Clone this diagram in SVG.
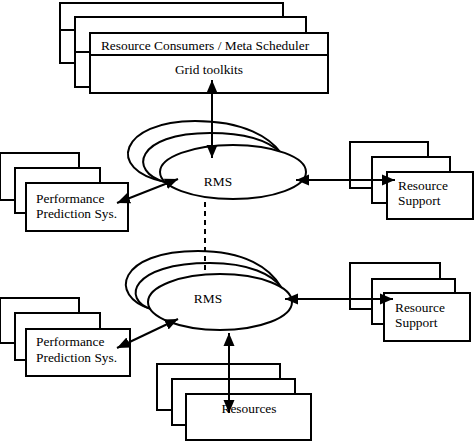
<svg xmlns="http://www.w3.org/2000/svg" width="474" height="442" viewBox="0 0 474 442">
<style>
.b{fill:#fff;stroke:#000;stroke-width:2}
.ln{fill:none;stroke:#000;stroke-width:2}
text{font-family:'Liberation Serif','Times New Roman','DejaVu Serif',serif;font-size:13.4px;fill:#000}
.c{stroke:#000;stroke-width:2;fill:none}
</style>
<defs>
<marker id="ah" markerUnits="userSpaceOnUse" markerWidth="14" markerHeight="12" refX="13" refY="6" orient="auto-start-reverse">
<path d="M0,0.5 L13,6 L0,11.5 z" fill="#000"/>
</marker>
</defs>
<rect width="474" height="442" fill="#fff"/>
<g id="consumers">
<rect class="b" x="60" y="3" width="223" height="60"/>
<line class="ln" x1="60" y1="30" x2="283" y2="30"/>
<rect class="b" x="75" y="17" width="231" height="70"/>
<line class="ln" x1="75" y1="52" x2="306" y2="52"/>
<rect class="b" x="90" y="33" width="238" height="60"/>
<line class="ln" x1="90" y1="55" x2="328" y2="55"/>
<text font-family="Liberation Serif, serif" x="205" y="50" text-anchor="middle">Resource Consumers / Meta Scheduler</text>
<text font-family="Liberation Serif, serif" x="209" y="74" text-anchor="middle">Grid toolkits</text>
</g>
<g id="perf1">
<rect class="b" x="0" y="153" width="79" height="47"/>
<rect class="b" x="15" y="168" width="85" height="45"/>
<rect class="b" x="26" y="183" width="102" height="48"/>
<text x="36" y="203">Performance</text>
<text x="36" y="218">Prediction Sys.</text>
</g>
<g id="support1">
<rect class="b" x="350" y="142" width="78" height="46"/>
<rect class="b" x="372" y="157" width="78" height="46"/>
<rect class="b" x="387" y="172" width="86" height="47"/>
<text x="398" y="190">Resource</text>
<text x="398" y="205">Support</text>
</g>
<g id="rms1">
<path class="b" d="M165,182 C105,170 120,121 195,121 C245,121 270,138 281,153"/>
<path class="b" d="M165,182 C128,172 135,133 210,133 C248,133 270,142 281,153"/>
<ellipse class="b" cx="233" cy="172" rx="73" ry="27"/>
<text x="218" y="186" text-anchor="middle">RMS</text>
</g>
<g id="perf2">
<rect class="b" x="0" y="298" width="79" height="45"/>
<rect class="b" x="15" y="313" width="85" height="47"/>
<rect class="b" x="26" y="329" width="104" height="47"/>
<text x="36" y="346">Performance</text>
<text x="36" y="362">Prediction Sys.</text>
</g>
<g id="support2">
<rect class="b" x="350" y="263" width="90" height="46"/>
<rect class="b" x="372" y="279" width="83" height="45"/>
<rect class="b" x="384" y="293" width="86" height="48"/>
<text x="395" y="312">Resource</text>
<text x="395" y="327">Support</text>
</g>
<g id="resources">
<rect class="b" x="157" y="364" width="123" height="46"/>
<rect class="b" x="172" y="379" width="123" height="46"/>
<rect class="b" x="186" y="394" width="125" height="46"/>
<text x="249" y="413" text-anchor="middle">Resources</text>
</g>
<g id="rms2">
<path class="b" d="M151,309 C108,296 118,251 198,251 C245,251 270,268 281,287"/>
<path class="b" d="M151,309 C122,300 130,263 210,263 C250,263 272,275 281,287"/>
<ellipse class="b" cx="220" cy="302" rx="72" ry="28"/>
<text x="208" y="303" text-anchor="middle">RMS</text>
</g>
<g id="connectors">
<line class="c" x1="212" y1="80" x2="212" y2="158" marker-start="url(#ah)" marker-end="url(#ah)"/>
<line class="c" x1="296" y1="180" x2="395" y2="180" marker-start="url(#ah)" marker-end="url(#ah)"/>
<line class="c" x1="178" y1="179" x2="117" y2="203" marker-start="url(#ah)" marker-end="url(#ah)"/>
<line class="c" x1="205" y1="202" x2="205" y2="275" stroke-dasharray="5,4"/>
<line class="c" x1="285" y1="299" x2="393" y2="299" marker-start="url(#ah)" marker-end="url(#ah)"/>
<line class="c" x1="178" y1="319" x2="117" y2="348" marker-start="url(#ah)" marker-end="url(#ah)"/>
<line class="c" x1="229" y1="333" x2="229" y2="413" marker-start="url(#ah)" marker-end="url(#ah)"/>
</g>
</svg>
